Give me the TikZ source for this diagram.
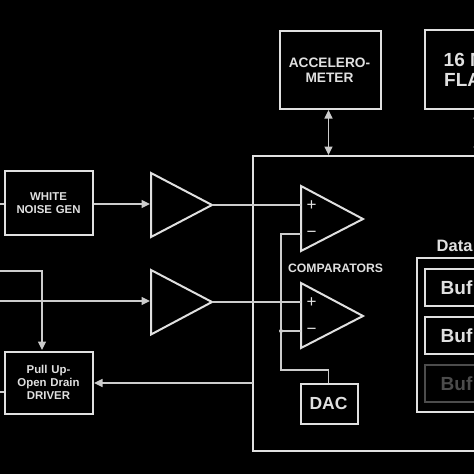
\documentclass[tikz,border=0pt]{standalone}
\usepackage{fontspec}
\setmainfont{Liberation Sans}
\usetikzlibrary{arrows.meta}
\definecolor{wire}{gray}{0.80}
\definecolor{boxc}{gray}{0.88}
\definecolor{dimc}{gray}{0.30}
\newcommand{\fs}[1]{\bfseries\fontsize{#1pt}{#1pt}\selectfont}
\newcommand{\fr}[1]{\fontsize{#1pt}{#1pt}\selectfont}
\tikzset{
  x=1pt,y=-1pt,
  outl/.style={draw=boxc,line width=2pt},
  wireline/.style={draw=wire,line width=1.3pt},
  arr/.style={wireline,-{Triangle[length=8.5pt,width=8pt]}},
  darr/.style={wireline,{Triangle[length=8.5pt,width=8pt]}-{Triangle[length=8.5pt,width=8pt]}},
  lbl/.style={text=boxc,align=center,inner sep=0pt},
  blk/.style={outl,inner sep=0pt,rectangle,anchor=north west},
}
\begin{document}
\begin{tikzpicture}
\useasboundingbox (0,0) rectangle (474,474);
\fill[black] (0,0) rectangle (474,474);
% top boxes
\node[blk,minimum width=101.5pt,minimum height=78pt] (acc) at (278.5,30) {};
\node[lbl,font=\fs{13.7},text width=100pt] (acclbl) at (329.5,70) {\baselineskip=15pt ACCELERO-\\METER\par};
\draw[outl] (480,30) -- (424.5,30) -- (424.5,109) -- (480,109);
\node[lbl,font=\fs{19},anchor=base west] (flash) at (443.5,66) {16 M};
\node[lbl,font=\fs{19},anchor=base west] (flash2) at (444,86) {FLA};
% main box
\draw[outl] (480,155.5) -- (253,155.5) -- (253,451) -- (480,451);
\coordinate (maintop) at (328.5,155);
\coordinate (mainleft) at (253,383);
\coordinate (flashb) at (477.5,110);
\coordinate (flashm) at (477.5,155);
\draw[darr] (acc.south -| maintop) -- (maintop);
\draw[darr] (flashb) -- (flashm);
% left blocks
\node[blk,minimum width=88pt,minimum height=64pt] (wn) at (4,170) {};
\node[lbl,font=\fs{11.4},text width=88pt] (wnl) at (48.5,203.5) {\baselineskip=13pt WHITE\\NOISE GEN\par};
\node[blk,minimum width=88pt,minimum height=62pt] (pu) at (4,350.5) {};
\node[lbl,font=\fs{11.4},text width=88pt] (pul) at (48.5,382.5) {\baselineskip=13pt Pull Up-\\Open Drain\\DRIVER\par};
% amps
\draw[outl,line join=miter] (151,173) -- (212,205) -- (151,237) -- cycle;
\draw[outl,line join=miter] (151,270) -- (212,302) -- (151,334.5) -- cycle;
\coordinate (a1in) at (150,204);
\coordinate (a2in) at (150,301);
\coordinate (a1out) at (212,205);
\coordinate (a2out) at (212,302);
% comparators
\draw[outl] (301,186) -- (363,219) -- (301,251) -- cycle;
\draw[outl] (301,283) -- (363,316) -- (301,348) -- cycle;
\coordinate (c1p) at (301,205);
\coordinate (c2p) at (301,302);
\coordinate (c1m) at (301,234);
\coordinate (c2m) at (301,331);
\draw[wireline] (a1out) -- (c1p);
\draw[wireline] (a2out) -- (c2p);
\node[lbl,font=\fr{17}] (p1) at (311.5,206) {+};
\node[lbl,font=\fr{17}] (p2) at (311.5,303) {+};
\node[lbl,font=\fr{17}] (m1) at (311.5,234) {\textminus};
\node[lbl,font=\fr{17}] (m2) at (311.5,331) {\textminus};
\node[lbl,font=\fs{12.2}] (comp) at (335.5,268) {COMPARATORS};
% dac
\node[blk,minimum width=57pt,minimum height=39.5pt] (dac) at (300,383) {};
\node[lbl,font=\fs{17.5}] (daclbl) at (328.5,403) {DAC};
% wires
\draw[arr] (wn.east |- a1in) -- (a1in);
\coordinate (wnin) at (0,204);
\draw[wireline] (wnin) -- (wn.west |- wnin);
\coordinate (in2) at (0,301);
\draw[arr] (in2) -- (a2in);
\coordinate (in3) at (0,271);
\draw[arr] (in3) -- (42,271) -- (42,350);
\coordinate (in4) at (0,392);
\draw[wireline] (in4) -- (pu.west |- in4);
\draw[arr] (mainleft) -- (pu.east |- mainleft);
\coordinate (daca) at (281,370);
\coordinate (dacb) at (328.5,370);
\draw[wireline] (c1m) -- (281,234) -- (daca) -- (dacb) -- (dac.north -| dacb);
\coordinate (jn) at (281,331);
\draw[wireline] (jn) -- (c2m);
\fill[wire] (jn) circle (2);
% data
\draw[outl] (480,258) -- (417,258) -- (417,411.5) -- (480,411.5);
\node[lbl,font=\fs{16.5},anchor=base west] (dat) at (436.5,251) {Data};
\draw[outl] (480,268.5) -- (425,268.5) -- (425,306) -- (480,306);
\draw[outl] (480,316.5) -- (425,316.5) -- (425,353.5) -- (480,353.5);
\draw[outl,draw=dimc] (480,364.5) -- (425,364.5) -- (425,402) -- (480,402);
\node[lbl,font=\fs{19},anchor=base west] (b1) at (440.5,294) {Buf};
\node[lbl,font=\fs{19},anchor=base west] (b2) at (440.5,342) {Buf};
\node[lbl,text=dimc,font=\fs{19},anchor=base west] (b3) at (440.5,390) {Buf};
\end{tikzpicture}
\end{document}
